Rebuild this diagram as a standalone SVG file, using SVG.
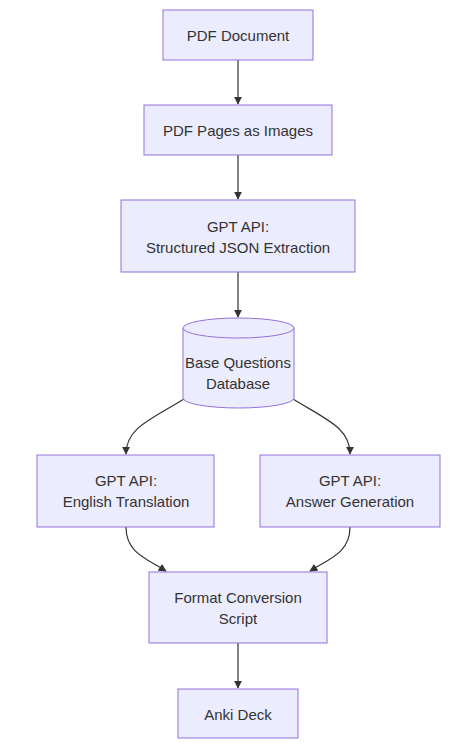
<svg xmlns="http://www.w3.org/2000/svg" width="474" height="754" viewBox="0 0 474 754">
<defs>
<style>
.n{fill:#ECECFF;stroke:#9370DB;stroke-width:1}
.t{font-family:"Liberation Sans","DejaVu Sans",sans-serif;font-size:15px;fill:#333;text-anchor:middle;dominant-baseline:central}
.e{fill:none;stroke:#333;stroke-width:1.2}
</style>
<marker id="arr" viewBox="0 0 10 10" refX="9" refY="5" markerWidth="8" markerHeight="8" markerUnits="userSpaceOnUse" orient="auto">
<path d="M0,0 L10,5 L0,10 z" fill="#333"/>
</marker>
</defs>
<rect width="474" height="754" fill="#fff"/>
<g id="connectors">
<path class="e" d="M238,60 V104" marker-end="url(#arr)"/>
<path class="e" d="M238,155 V199" marker-end="url(#arr)"/>
<path class="e" d="M238,272 V317" marker-end="url(#arr)"/>
<path class="e" d="M184,399 C150,420 126,428 126,454" marker-end="url(#arr)"/>
<path class="e" d="M293,399 C327,420 350,428 350,454" marker-end="url(#arr)"/>
<path class="e" d="M126,527 C126,552 145,558 166,571" marker-end="url(#arr)"/>
<path class="e" d="M350,527 C350,552 331,558 310,571" marker-end="url(#arr)"/>
<path class="e" d="M238,643 V688" marker-end="url(#arr)"/>
</g>
<g id="pdf"><rect class="n" x="163" y="10" width="150" height="50"/><text class="t" x="238" y="35">PDF Document</text></g>
<g id="pages"><rect class="n" x="144" y="105" width="188" height="50"/><text class="t" x="238" y="130">PDF Pages as Images</text></g>
<g id="extract"><rect class="n" x="121" y="200" width="234" height="72"/><text class="t" x="238" y="226">GPT API:</text><text class="t" x="238" y="247">Structured JSON Extraction</text></g>
<g id="db">
<path class="n" d="M183,328 A55.5,10 0 0 1 294,328 V398 A55.5,10 0 0 1 183,398 Z"/>
<path class="n" d="M183,328 A55.5,10 0 0 0 294,328" fill="none"/>
<text class="t" x="238" y="362">Base Questions</text><text class="t" x="238" y="383">Database</text>
</g>
<g id="translate"><rect class="n" x="37" y="455" width="177" height="72"/><text class="t" x="126" y="480">GPT API:</text><text class="t" x="126" y="501">English Translation</text></g>
<g id="answer"><rect class="n" x="260" y="455" width="180" height="72"/><text class="t" x="350" y="480">GPT API:</text><text class="t" x="350" y="501">Answer Generation</text></g>
<g id="format"><rect class="n" x="149" y="572" width="178" height="71"/><text class="t" x="238" y="597">Format Conversion</text><text class="t" x="238" y="618">Script</text></g>
<g id="anki"><rect class="n" x="178" y="689" width="120" height="49"/><text class="t" x="238" y="714">Anki Deck</text></g>
</svg>
